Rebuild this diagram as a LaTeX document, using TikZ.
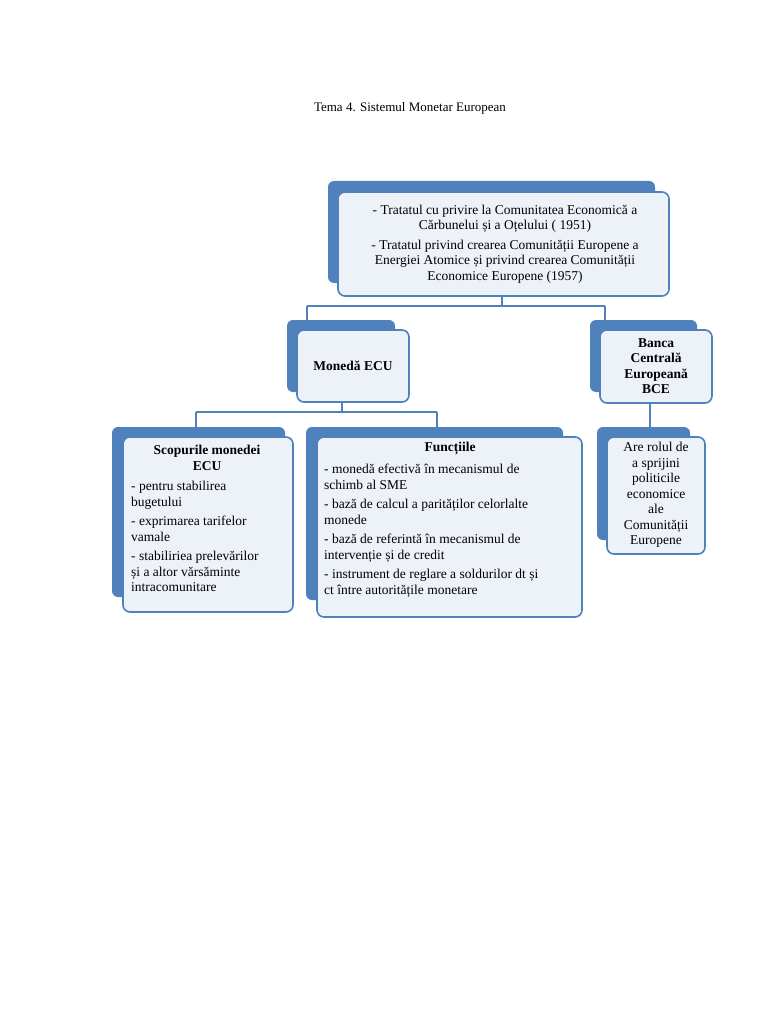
\documentclass[tikz,border=0pt]{standalone}
\usepackage{fontspec}
\setmainfont{Liberation Serif}
\begin{document}
\begin{tikzpicture}[x=1pt,y=-1pt,
 back/.style={fill=bl,rounded corners=6pt},
 front/.style={fill=lt,draw=bl,line width=1.6pt,rounded corners=7pt},
 conn/.style={draw=bl,line width=2.6pt},
 txt/.style={font=\fontsize{13.5}{15.5}\selectfont,align=center,inner sep=0pt}]
\definecolor{bl}{HTML}{4F81BD}
\definecolor{lt}{HTML}{EDF1F8}
\useasboundingbox[fill=white] (0,0) rectangle (768,1024);
\node[font=\fontsize{13}{15}\selectfont] (title) at (410,108) {Tema 4. Sistemul Monetar European};
% connectors
\coordinate (t1) at (502,296); \coordinate (t2) at (502,306);
\coordinate (l1) at (307,306); \coordinate (l2) at (307,322);
\coordinate (r1) at (605,306); \coordinate (r2) at (605,322);
\draw[conn] (t1)--(t2) (l1)--(r1) (l1)--(l2) (r1)--(r2);
\coordinate (m1) at (342,402); \coordinate (m2) at (342,412);
\coordinate (a1) at (196,412); \coordinate (a2) at (196,429);
\coordinate (b1) at (437,412); \coordinate (b2) at (437,429);
\draw[conn] (m1)--(m2) (a1)--(b1) (a1)--(a2) (b1)--(b2);
\coordinate (c1) at (650,403); \coordinate (c2) at (650,429);
\draw[conn] (c1)--(c2);
% boxes
\fill[back] (328,181) rectangle (655,283);
\fill[front] (338,192) rectangle (669,296);
\fill[back] (287,320) rectangle (395,392);
\fill[front] (297,330) rectangle (409,402);
\fill[back] (590,320) rectangle (697,392);
\fill[front] (600,330) rectangle (712,403);
\fill[back] (112,427) rectangle (285,597);
\fill[front] (123,437) rectangle (293,612);
\fill[back] (306,427) rectangle (563,600);
\fill[front] (317,437) rectangle (582,617);
\fill[back] (597,427) rectangle (690,540);
\fill[front] (607,437) rectangle (705,554);
% texts
\node[txt] (top) at (505,244) {- Tratatul cu privire la Comunitatea Economică a\\Cărbunelui și a Oțelului ( 1951)\\[4pt]- Tratatul privind crearea Comunității Europene a\\Energiei Atomice și privind crearea Comunității\\Economice Europene (1957)};
\node[txt,font=\fontsize{13.5}{15.5}\selectfont\bfseries] (mon) at (353,366) {Monedă ECU};
\node[txt,font=\fontsize{13.5}{15.5}\selectfont\bfseries] (bce) at (656,366) {Banca\\Centrală\\Europeană\\BCE};
\node[txt,font=\fontsize{13.5}{15.5}\selectfont\bfseries] (sh) at (207,458) {Scopurile monedei\\ECU};
\node[txt,align=left,anchor=north west] (sb) at (131,481) {- pentru stabilirea\\bugetului\\[4pt]- exprimarea tarifelor\\vamale\\[4pt]- stabiliriea prelevărilor\\și a altor vărsăminte\\intracomunitare};
\node[txt,font=\fontsize{13.5}{15.5}\selectfont\bfseries] (fh) at (450,449) {Funcțiile};
\node[txt,align=left,anchor=north west] (fb) at (324,464) {- monedă efectivă în mecanismul de\\schimb al SME\\[4pt]- bază de calcul a parităților celorlalte\\monede\\[4pt]- bază de referintă în mecanismul de\\intervenție și de credit\\[4pt]- instrument de reglare a soldurilor dt și\\ct între autoritățile monetare};
\node[txt] (are) at (656,495) {Are rolul de\\a sprijini\\politicile\\economice\\ale\\Comunității\\Europene};
\end{tikzpicture}
\end{document}
